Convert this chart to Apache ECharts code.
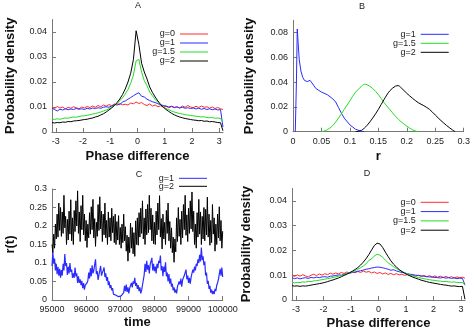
<!DOCTYPE html>
<html>
<head>
<meta charset="utf-8">
<script src="https://cdn.jsdelivr.net/npm/echarts@6/dist/echarts.min.js"></script>
<style>
html, body { margin: 0; padding: 0; background: #fff; }
#chart { width: 474px; height: 331px; }
</style>
</head>
<body>
<div id="chart"></div>
<script>
// ---- Panels A and D: phase-difference histograms ----
const phase = [-3.14, -3.05, -2.95, -2.85, -2.75, -2.65, -2.55, -2.45, -2.35, -2.25, -2.15, -2.05,
  -1.95, -1.85, -1.75, -1.65, -1.55, -1.45, -1.35, -1.25, -1.15, -1.05, -0.95, -0.85, -0.75, -0.65,
  -0.55, -0.45, -0.35, -0.25, -0.15, -0.05, 0.05, 0.15, 0.25, 0.35, 0.45, 0.55, 0.65, 0.75, 0.85,
  0.95, 1.05, 1.15, 1.25, 1.35, 1.45, 1.55, 1.65, 1.75, 1.85, 1.95, 2.05, 2.15, 2.25, 2.35, 2.45,
  2.55, 2.65, 2.75, 2.85, 2.95, 3.05, 3.14];
const phaseTicks = [-3, -2, -1, 0, 1, 2, 3];
const densityTicks = [0, 0.01, 0.02, 0.03, 0.04];

const densA_g0 = [0.0100, 0.0094, 0.0102, 0.0096, 0.0100, 0.0092, 0.0099, 0.0095, 0.0101, 0.0097, 0.0093, 0.0100,
  0.0096, 0.0102, 0.0098, 0.0104, 0.0099, 0.0106, 0.0101, 0.0108, 0.0103, 0.0110, 0.0105, 0.0112, 0.0107, 0.0114,
  0.0109, 0.0111, 0.0108, 0.0116, 0.0113, 0.0120, 0.0114, 0.0118, 0.0110, 0.0106, 0.0112, 0.0104, 0.0108, 0.0101,
  0.0105, 0.0099, 0.0103, 0.0097, 0.0102, 0.0098, 0.0101, 0.0096, 0.0104, 0.0099, 0.0106, 0.0100, 0.0097, 0.0103,
  0.0098, 0.0104, 0.0099, 0.0101, 0.0095, 0.0100, 0.0094, 0.0098, 0.0093, 0.0090];
const densA_g1 = [0.0095, 0.0090, 0.0084, 0.0091, 0.0088, 0.0093, 0.0089, 0.0092, 0.0090, 0.0094, 0.0091, 0.0093,
  0.0090, 0.0095, 0.0092, 0.0096, 0.0094, 0.0097, 0.0095, 0.0099, 0.0101, 0.0099, 0.0104, 0.0108, 0.0112, 0.0110,
  0.0120, 0.0124, 0.0131, 0.0138, 0.0145, 0.0152, 0.0157, 0.0143, 0.0140, 0.0131, 0.0126, 0.0121, 0.0118, 0.0113,
  0.0109, 0.0106, 0.0104, 0.0100, 0.0103, 0.0098, 0.0100, 0.0096, 0.0099, 0.0095, 0.0097, 0.0094, 0.0096, 0.0092,
  0.0095, 0.0091, 0.0094, 0.0090, 0.0093, 0.0089, 0.0092, 0.0088, 0.0090, 0.0020];
const densA_g15 = [0.0052, 0.0050, 0.0053, 0.0051, 0.0054, 0.0056, 0.0055, 0.0058, 0.0060, 0.0059, 0.0062, 0.0064,
  0.0065, 0.0067, 0.0069, 0.0072, 0.0074, 0.0077, 0.0080, 0.0084, 0.0088, 0.0093, 0.0099, 0.0106, 0.0114, 0.0125,
  0.0137, 0.0152, 0.0170, 0.0195, 0.0228, 0.0285, 0.0290, 0.0240, 0.0205, 0.0185, 0.0160, 0.0145, 0.0130, 0.0118,
  0.0108, 0.0100, 0.0094, 0.0089, 0.0084, 0.0080, 0.0077, 0.0074, 0.0072, 0.0069, 0.0068, 0.0066, 0.0065, 0.0063,
  0.0062, 0.0060, 0.0061, 0.0058, 0.0057, 0.0058, 0.0055, 0.0056, 0.0054, 0.0040];
const densA_g2 = [0.0038, 0.0036, 0.0038, 0.0037, 0.0040, 0.0039, 0.0042, 0.0041, 0.0044, 0.0045, 0.0046, 0.0048,
  0.0050, 0.0051, 0.0054, 0.0056, 0.0060, 0.0063, 0.0068, 0.0073, 0.0080, 0.0088, 0.0096, 0.0106, 0.0118, 0.0132,
  0.0150, 0.0172, 0.0200, 0.0235, 0.0290, 0.0405, 0.0350, 0.0275, 0.0240, 0.0212, 0.0180, 0.0158, 0.0140, 0.0124,
  0.0110, 0.0099, 0.0090, 0.0082, 0.0075, 0.0069, 0.0064, 0.0060, 0.0057, 0.0054, 0.0052, 0.0050, 0.0048, 0.0047,
  0.0045, 0.0046, 0.0043, 0.0044, 0.0041, 0.0042, 0.0040, 0.0038, 0.0037, 0.0005];

const densD_g0 = [0.0100, 0.0095, 0.0101, 0.0096, 0.0102, 0.0097, 0.0093, 0.0100, 0.0104, 0.0098, 0.0105, 0.0100,
  0.0106, 0.0102, 0.0108, 0.0104, 0.0109, 0.0105, 0.0111, 0.0107, 0.0113, 0.0108, 0.0114, 0.0110, 0.0115, 0.0111,
  0.0117, 0.0112, 0.0115, 0.0109, 0.0113, 0.0107, 0.0111, 0.0105, 0.0109, 0.0103, 0.0107, 0.0102, 0.0106, 0.0101,
  0.0104, 0.0099, 0.0103, 0.0098, 0.0101, 0.0096, 0.0100, 0.0095, 0.0099, 0.0094, 0.0098, 0.0093, 0.0097, 0.0092,
  0.0096, 0.0091, 0.0095, 0.0090, 0.0094, 0.0089, 0.0093, 0.0090, 0.0092, 0.0088];
const densD_g1 = [0.0090, 0.0086, 0.0089, 0.0085, 0.0088, 0.0090, 0.0087, 0.0091, 0.0089, 0.0092, 0.0090, 0.0093,
  0.0094, 0.0092, 0.0096, 0.0097, 0.0099, 0.0101, 0.0100, 0.0104, 0.0106, 0.0108, 0.0111, 0.0113, 0.0116, 0.0118,
  0.0121, 0.0124, 0.0126, 0.0129, 0.0131, 0.0133, 0.0132, 0.0130, 0.0127, 0.0124, 0.0120, 0.0122, 0.0117, 0.0114,
  0.0111, 0.0109, 0.0106, 0.0104, 0.0102, 0.0100, 0.0099, 0.0097, 0.0096, 0.0094, 0.0093, 0.0092, 0.0091, 0.0090,
  0.0089, 0.0091, 0.0088, 0.0090, 0.0087, 0.0089, 0.0086, 0.0088, 0.0087, 0.0060];
const densD_g15 = [0.0072, 0.0069, 0.0071, 0.0070, 0.0073, 0.0072, 0.0075, 0.0074, 0.0077, 0.0078, 0.0080, 0.0082,
  0.0084, 0.0086, 0.0088, 0.0091, 0.0093, 0.0096, 0.0099, 0.0102, 0.0106, 0.0110, 0.0114, 0.0119, 0.0124, 0.0130,
  0.0137, 0.0146, 0.0160, 0.0166, 0.0178, 0.0184, 0.0181, 0.0172, 0.0161, 0.0150, 0.0142, 0.0134, 0.0127, 0.0120,
  0.0115, 0.0110, 0.0105, 0.0101, 0.0097, 0.0094, 0.0091, 0.0088, 0.0086, 0.0084, 0.0082, 0.0080, 0.0079, 0.0077,
  0.0076, 0.0074, 0.0075, 0.0073, 0.0072, 0.0073, 0.0071, 0.0070, 0.0071, 0.0060];
const densD_g2 = [0.0058, 0.0056, 0.0057, 0.0055, 0.0057, 0.0056, 0.0058, 0.0060, 0.0062, 0.0064, 0.0066, 0.0068,
  0.0071, 0.0074, 0.0078, 0.0081, 0.0085, 0.0089, 0.0094, 0.0099, 0.0104, 0.0110, 0.0116, 0.0123, 0.0131, 0.0141,
  0.0153, 0.0167, 0.0183, 0.0202, 0.0220, 0.0229, 0.0226, 0.0212, 0.0193, 0.0175, 0.0158, 0.0144, 0.0133, 0.0123,
  0.0115, 0.0108, 0.0102, 0.0097, 0.0092, 0.0088, 0.0084, 0.0080, 0.0077, 0.0074, 0.0071, 0.0069, 0.0067, 0.0065,
  0.0063, 0.0061, 0.0060, 0.0058, 0.0056, 0.0057, 0.0055, 0.0054, 0.0055, 0.0003];

// ---- Panel B: distribution of the order parameter r ----
const rB_g1 = [0.004, 0.006, 0.0075, 0.009, 0.011, 0.014, 0.017, 0.02, 0.025, 0.03, 0.033, 0.037, 0.04, 0.05,
  0.06, 0.07, 0.075, 0.08, 0.085, 0.09, 0.1, 0.11, 0.12, 0.125];
const densB_g1 = [0, 0.040, 0.083, 0.072, 0.058, 0.049, 0.044, 0.0415, 0.0405, 0.0415, 0.041, 0.037, 0.035, 0.032,
  0.030, 0.0265, 0.024, 0.0195, 0.015, 0.011, 0.0055, 0.002, 0.0003, 0];
const rB_g15 = [0.05, 0.06, 0.07, 0.08, 0.09, 0.10, 0.11, 0.12, 0.125, 0.13, 0.14, 0.15, 0.16, 0.17, 0.18, 0.19,
  0.20, 0.21, 0.22];
const densB_g15 = [0, 0.0015, 0.005, 0.011, 0.018, 0.025, 0.032, 0.0365, 0.0383, 0.038, 0.035, 0.030, 0.0235,
  0.018, 0.0125, 0.008, 0.0045, 0.0015, 0];
const rB_g2 = [0.11, 0.12, 0.13, 0.14, 0.15, 0.16, 0.17, 0.18, 0.185, 0.19, 0.20, 0.21, 0.22, 0.23, 0.24, 0.25,
  0.26, 0.27, 0.28, 0.285];
const densB_g2 = [0, 0.001, 0.005, 0.011, 0.018, 0.026, 0.033, 0.0368, 0.0372, 0.0355, 0.031, 0.027, 0.0235,
  0.021, 0.018, 0.0135, 0.009, 0.005, 0.0015, 0];
const rTicks = [0, 0.05, 0.1, 0.15, 0.2, 0.25, 0.3];
const densBTicks = [0, 0.02, 0.04, 0.06, 0.08];

// ---- Panel C: r(t) time series, sampled every 25 time units from t = 95000 ----
const timeStart = 95000;
const timeStep = 25;
const rC_g1 = [
  0.092, 0.128, 0.100, 0.112, 0.080, 0.098, 0.070, 0.090, 0.066, 0.084, 0.060, 0.081, 0.066, 0.098, 0.080, 0.124, 0.092, 0.100, 0.068, 0.090,
  0.072, 0.100, 0.076, 0.082, 0.060, 0.072, 0.060, 0.088, 0.064, 0.072, 0.046, 0.064, 0.046, 0.056, 0.040, 0.052, 0.032, 0.046, 0.028, 0.040,
  0.038, 0.046, 0.052, 0.074, 0.058, 0.086, 0.064, 0.094, 0.072, 0.080, 0.096, 0.110, 0.070, 0.078, 0.054, 0.068, 0.064, 0.092, 0.066, 0.074,
  0.080, 0.088, 0.062, 0.072, 0.052, 0.062, 0.040, 0.050, 0.032, 0.040, 0.026, 0.032, 0.016, 0.020, 0.011, 0.013, 0.009, 0.011, 0.009, 0.011,
  0.009, 0.011, 0.010, 0.012, 0.020, 0.038, 0.024, 0.042, 0.022, 0.034, 0.018, 0.032, 0.036, 0.046, 0.034, 0.050, 0.044, 0.060, 0.038, 0.046,
  0.030, 0.040, 0.024, 0.034, 0.018, 0.026, 0.030, 0.054, 0.068, 0.098, 0.076, 0.106, 0.082, 0.094, 0.072, 0.096, 0.104, 0.114, 0.080, 0.098,
  0.078, 0.090, 0.072, 0.098, 0.086, 0.106, 0.100, 0.120, 0.080, 0.092, 0.064, 0.090, 0.076, 0.102, 0.064, 0.074, 0.050, 0.070, 0.044, 0.058,
  0.036, 0.044, 0.026, 0.034, 0.020, 0.028, 0.018, 0.036, 0.040, 0.050, 0.042, 0.058, 0.036, 0.054, 0.050, 0.066, 0.062, 0.082, 0.056, 0.066,
  0.046, 0.060, 0.044, 0.062, 0.066, 0.082, 0.074, 0.090, 0.080, 0.098, 0.092, 0.110, 0.100, 0.122, 0.104, 0.142, 0.108, 0.118, 0.094, 0.104,
  0.066, 0.074, 0.044, 0.052, 0.030, 0.038, 0.020, 0.028, 0.016, 0.024, 0.016, 0.030, 0.024, 0.040, 0.046, 0.056, 0.060, 0.084, 0.066, 0.088, 0.062];
const rC_g2 = [
  0.150, 0.128, 0.178, 0.140, 0.205, 0.165, 0.232, 0.170, 0.262, 0.188, 0.250, 0.172, 0.238, 0.180, 0.283, 0.195, 0.226, 0.150, 0.218, 0.162,
  0.240, 0.178, 0.271, 0.160, 0.222, 0.150, 0.242, 0.185, 0.268, 0.200, 0.295, 0.180, 0.238, 0.158, 0.255, 0.190, 0.283, 0.176, 0.232, 0.160,
  0.215, 0.142, 0.205, 0.168, 0.236, 0.178, 0.252, 0.190, 0.272, 0.168, 0.220, 0.145, 0.210, 0.172, 0.258, 0.188, 0.279, 0.192, 0.240, 0.158,
  0.232, 0.176, 0.262, 0.168, 0.215, 0.150, 0.238, 0.170, 0.222, 0.160, 0.248, 0.182, 0.226, 0.155, 0.232, 0.150, 0.212, 0.162, 0.228, 0.150,
  0.196, 0.140, 0.205, 0.155, 0.232, 0.160, 0.198, 0.132, 0.175, 0.105, 0.170, 0.128, 0.208, 0.140, 0.196, 0.125, 0.182, 0.118, 0.214, 0.150,
  0.222, 0.148, 0.236, 0.170, 0.248, 0.180, 0.268, 0.165, 0.222, 0.150, 0.246, 0.176, 0.258, 0.182, 0.283, 0.190, 0.248, 0.160, 0.230, 0.152,
  0.210, 0.150, 0.240, 0.176, 0.262, 0.190, 0.282, 0.170, 0.220, 0.138, 0.232, 0.165, 0.210, 0.150, 0.242, 0.180, 0.262, 0.160, 0.212, 0.140,
  0.195, 0.128, 0.170, 0.102, 0.165, 0.130, 0.222, 0.158, 0.250, 0.172, 0.218, 0.150, 0.240, 0.168, 0.258, 0.190, 0.283, 0.175, 0.230, 0.158,
  0.248, 0.180, 0.268, 0.192, 0.292, 0.185, 0.240, 0.150, 0.205, 0.140, 0.236, 0.170, 0.272, 0.178, 0.238, 0.150, 0.226, 0.165, 0.250, 0.160,
  0.245, 0.176, 0.278, 0.170, 0.232, 0.148, 0.215, 0.155, 0.258, 0.178, 0.222, 0.132, 0.205, 0.150, 0.232, 0.168, 0.252, 0.160, 0.215, 0.140, 0.186];
const timeTicks = [95000, 96000, 97000, 98000, 99000, 100000];
const rtTicks = [0, 0.05, 0.1, 0.15, 0.2, 0.25, 0.3];

// ---- Styling ----
const COLORS = { 'g=0': '#ff2a2a', 'g=1': '#2b2bff', 'g=1.5': '#22dd22', 'g=2': '#000000' };
const FONT = 'Liberation Sans, Arial, Helvetica, sans-serif';
const AXIS_COLOR = '#777';

function pairs(xs, ys) { return xs.map((x, i) => [x, ys[i]]); }

function axis(gridIndex, min, max, ticks, name, nameGap, formatter) {
  return {
    type: 'value', gridIndex, min, max,
    name, nameLocation: 'middle', nameGap,
    nameTextStyle: { fontFamily: FONT, fontSize: 13, fontWeight: 'bold', color: '#111' },
    axisLine: { show: true, onZero: false, lineStyle: { color: AXIS_COLOR, width: 1 } },
    axisTick: { show: true, inside: true, length: 4, customValues: ticks, lineStyle: { color: AXIS_COLOR } },
    axisLabel: { customValues: ticks, fontFamily: FONT, fontSize: 9, color: '#222', margin: 5,
      formatter: formatter || undefined },
    splitLine: { show: false }
  };
}

function line(name, xi, yi, data, extra) {
  return Object.assign({
    type: 'line', name, xAxisIndex: xi, yAxisIndex: yi, data,
    symbol: 'none', animation: false,
    itemStyle: { color: COLORS[name] },
    lineStyle: { color: COLORS[name], width: 1 }
  }, extra || {});
}

function legend(names, right, top, gap) {
  return {
    data: names, orient: 'vertical', align: 'right', right, top,
    icon: 'rect', itemWidth: 28, itemHeight: 1, itemGap: gap,
    selectedMode: false,
    textStyle: { fontFamily: FONT, fontSize: 9, color: '#222', lineHeight: 9 }
  };
}

function label(text, x, y) {
  return { type: 'text', x, y, style: { text, fontFamily: FONT, fontSize: 9, fill: '#222',
    textAlign: 'center', textVerticalAlign: 'middle' } };
}

const chart = echarts.init(document.getElementById('chart'), null, { renderer: 'canvas' });
chart.setOption({
  backgroundColor: '#fff',
  animation: false,
  grid: [
    { left: 52, top: 19.5, width: 171, height: 112.5, outerBoundsMode: 'none' },
    { left: 293, top: 20.3, width: 170.7, height: 111.4, outerBoundsMode: 'none' },
    { left: 52, top: 189, width: 170.7, height: 111, outerBoundsMode: 'none' },
    { left: 292, top: 188.4, width: 173, height: 111.6, outerBoundsMode: 'none' }
  ],
  xAxis: [
    axis(0, -Math.PI, Math.PI, phaseTicks, 'Phase difference', 18),
    axis(1, 0, 0.3, rTicks, 'r', 18),
    axis(2, 95000, 100000, timeTicks, 'time', 15.5, v => String(v)),
    axis(3, -Math.PI, Math.PI, phaseTicks, 'Phase difference', 17)
  ],
  yAxis: [
    axis(0, 0, 0.045, densityTicks, 'Probability density', 35),
    axis(1, 0, 0.09, densBTicks, 'Probability density', 37),
    axis(2, 0, 0.3, rtTicks, 'r(t)', 35),
    axis(3, 0, 0.045, densityTicks, 'Probability density', 39)
  ],
  legend: [
    legend(['g=0', 'g=1', 'g=1.5', 'g=2'], 261, 24.5, 0),
    legend(['g=1', 'g=1.5', 'g=2'], 20.3, 24.8, 0),
    legend(['g=1', 'g=2'], 262, 168.8, -1),
    legend(['g=0', 'g=1', 'g=1.5', 'g=2'], 20.3, 192.8, 0.3)
  ],
  graphic: [
    label('A', 138, 6),
    label('B', 362, 7),
    label('C', 139, 175),
    label('D', 367, 174)
  ],
  series: [
    line('g=0', 0, 0, pairs(phase, densA_g0)),
    line('g=1', 0, 0, pairs(phase, densA_g1)),
    line('g=1.5', 0, 0, pairs(phase, densA_g15)),
    line('g=2', 0, 0, pairs(phase, densA_g2)),

    line('g=1', 1, 1, pairs(rB_g1, densB_g1)),
    line('g=1.5', 1, 1, pairs(rB_g15, densB_g15), { smooth: 0.3 }),
    line('g=2', 1, 1, pairs(rB_g2, densB_g2), { smooth: 0.3 }),

    line('g=1', 2, 2, rC_g1.map((v, i) => [timeStart + i * timeStep, v]),
      { lineStyle: { color: COLORS['g=1'], width: 1.2 } }),
    line('g=2', 2, 2, rC_g2.map((v, i) => [timeStart + i * timeStep, v])),

    line('g=0', 3, 3, pairs(phase, densD_g0)),
    line('g=1', 3, 3, pairs(phase, densD_g1)),
    line('g=1.5', 3, 3, pairs(phase, densD_g15)),
    line('g=2', 3, 3, pairs(phase, densD_g2))
  ]
});
</script>
</body>
</html>
